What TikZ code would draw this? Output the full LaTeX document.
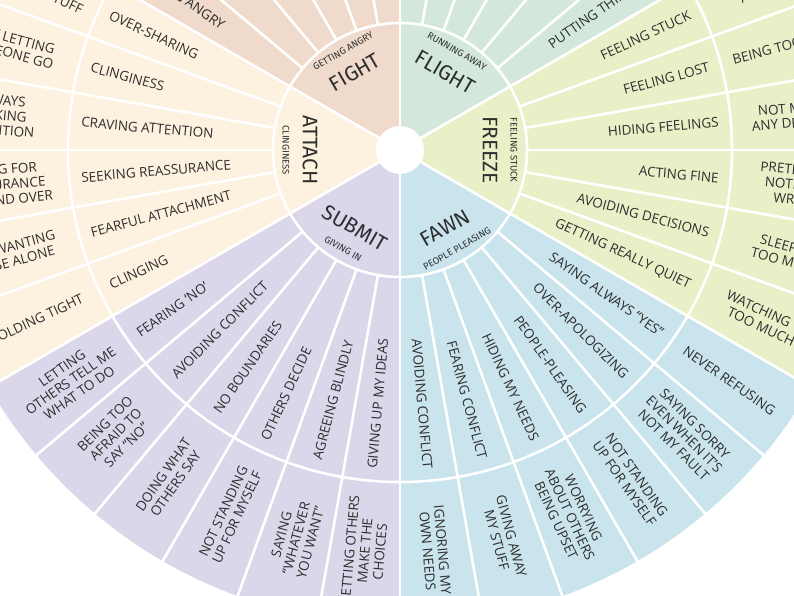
\documentclass[tikz,border=0pt]{standalone}
\usepackage{fontspec}
\setmainfont{Open Sans}
\newfontfamily\titlefont{Fira Sans}
\definecolor{fightc}{HTML}{EFDACC}
\definecolor{flightc}{HTML}{D3E7DA}
\definecolor{freezec}{HTML}{E9F0C8}
\definecolor{fawnc}{HTML}{C9E4EC}
\definecolor{submitc}{HTML}{DCD6EA}
\definecolor{attachc}{HTML}{FDF1DF}
\definecolor{ink}{HTML}{2E2E2E}
\begin{document}
\begin{tikzpicture}[x=1pt,y=1pt,
  item/.style={font=\fontsize{13.5}{15}\selectfont, text=ink, inner sep=0pt, align=center},
  title/.style={font=\titlefont\fontsize{21}{22}\selectfont, text=ink, inner sep=0pt},
  sub/.style={font=\titlefont\fontsize{9.5}{10}\selectfont, text=ink, inner sep=0pt},
  sep/.style={white, line width=2.6pt}]
\useasboundingbox (0,0) rectangle (794,596);
\clip (0,0) rectangle (794,596);
\fill[white] (0,0) rectangle (794,596);
\coordinate (c) at (400,446);
% sectors
\foreach \a/\col in {90/fightc,30/flightc,-30/freezec,-90/fawnc,-150/submitc,150/attachc}
  \fill[\col] (c) -- ++(\a:476) arc[start angle=\a, delta angle=60, radius=476] -- cycle;
% separators
\foreach \a in {0,10,...,350}
  \draw[sep] (c) ++(\a:127) -- ++(\a:349);
\foreach \a in {30,90,...,330}
  \draw[sep] (c) ++(\a:20) -- ++(\a:110);
\draw[sep] (c) circle (127);
\draw[sep] (c) circle (332);
\draw[sep] (c) circle (476);
\fill[white] (c) circle (24);
% core labels
\foreach \a/\t/\s [count=\i] in {120/FIGHT/GETTING ANGRY, 60/FLIGHT/RUNNING AWAY, 0/FREEZE/FEELING STUCK,
   -60/FAWN/PEOPLE PLEASING, -120/SUBMIT/GIVING IN, 180/ATTACH/CLINGINESS}{
  \pgfmathtruncatemacro\istop{(\a>=0 && \a<180)?1:0}
  \ifnum\istop=1 \def\rot{\a-90}\else\def\rot{\a+90}\fi
  \path (c) ++(\a:90) node[title, rotate=\rot] (core\i) {\t};
  \path (c) ++(\a:114) node[sub, rotate=\rot] (coresub\i) {\s};
}
% ring 2
\foreach \a/\t [count=\i] in {
  25/FEELING STUCK, 15/FEELING LOST, 5/HIDING FEELINGS, -5/ACTING FINE, -15/AVOIDING DECISIONS, -25/GETTING REALLY QUIET,
  -35/SAYING ALWAYS “YES”, -45/OVER-APOLOGIZING, -55/PEOPLE-PLEASING, -65/HIDING MY NEEDS, -75/FEARING CONFLICT, -85/AVOIDING CONFLICT,
  -95/GIVING UP MY IDEAS, -105/AGREEING BLINDLY, -115/OTHERS DECIDE, -125/NO BOUNDARIES, -135/AVOIDING CONFLICT, -145/FEARING ‘NO’,
  -155/CLINGING, -165/FEARFUL ATTACHMENT, -175/SEEKING REASSURANCE, 175/CRAVING ATTENTION, 165/CLINGINESS, 155/OVER-SHARING,
  145/GETTING ANGRY, 35/PUTTING THINGS OFF, 55/BECOMING DISTANT}{
  \pgfmathtruncatemacro\isl{(\a>90 || \a<-90)?1:0}
  \ifnum\isl=1
    \path (c) ++(\a:320) node[item, anchor=west, rotate=\a+180] (ra\i) {\t};
  \else
    \path (c) ++(\a:320) node[item, anchor=east, rotate=\a] (ra\i) {\t};
  \fi
}
% ring 3
\foreach \a/\t [count=\i] in {
  25/{NOT TALKING\\ABOUT IT}, 15/{BEING TOO QUIET}, 5/{NOT MAKING\\ANY DECISIONS}, -5/{PRETENDING\\NOTHING'S\\WRONG},
  -15/{SLEEPING\\TOO MUCH}, -25/{WATCHING TV\\TOO MUCH},
  -35/{NEVER REFUSING}, -45/{SAYING SORRY\\EVEN WHEN IT'S\\NOT MY FAULT}, -55/{NOT STANDING\\UP FOR MYSELF},
  -65/{WORRYING\\ABOUT OTHERS\\BEING UPSET}, -75/{GIVING AWAY\\MY STUFF}, -85/{IGNORING MY\\OWN NEEDS},
  -95/{LETTING OTHERS\\MAKE THE\\CHOICES}, -105/{SAYING\\“WHATEVER\\YOU WANT”}, -115/{NOT STANDING\\UP FOR MYSELF},
  -125/{DOING WHAT\\OTHERS SAY}, -135/{BEING TOO\\AFRAID TO\\SAY “NO”}, -145/{LETTING\\OTHERS TELL ME\\WHAT TO DO},
  -155/{HOLDING TIGHT}, -165/{NOT WANTING\\TO BE ALONE}, -175/{ASKING FOR\\REASSURANCE\\OVER AND OVER},
  175/{ALWAYS\\SEEKING\\ATTENTION}, 165/{NOT LETTING\\SOMEONE GO}, 155/{SHARING\\PERSONAL STUFF}}{
  \pgfmathtruncatemacro\isl{(\a>90 || \a<-90)?1:0}
  \ifnum\isl=1 \def\rot{\a+180}\else\def\rot{\a}\fi
  \path (c) ++(\a:402) node[item, rotate=\rot] (rb\i) {\t};
}
\end{tikzpicture}
\end{document}
